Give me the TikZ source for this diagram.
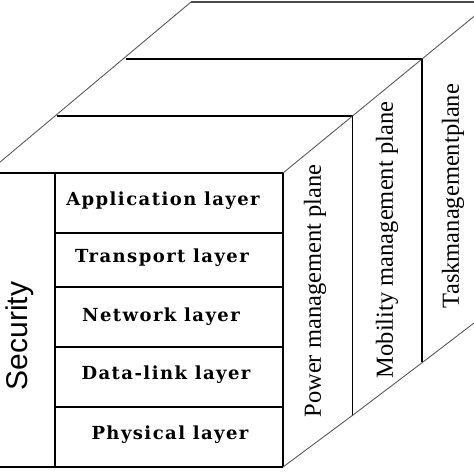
\documentclass[tikz,border=0pt]{standalone}
\usepackage{fontspec}
\setmainfont{Liberation Serif}
\newfontfamily\layerfont[LetterSpace=8]{DejaVu Serif}
\newfontfamily\secfont{Liberation Sans}
\begin{document}
\begin{tikzpicture}[x=1pt,y=-1pt,
  edge/.style={line width=1.3pt},
  slant/.style={line width=.9pt,black!65},
  layerlab/.style={font=\layerfont\bfseries\fontsize{18}{20}\selectfont,inner sep=0pt},
  planelab/.style={font=\fontsize{24.5}{26}\selectfont,rotate=90,inner sep=0pt}]
\useasboundingbox(0,0)rectangle(474,474);
\clip(0,0)rectangle(474,474);
% top face
\draw[edge](-13,173)--(283,173);
\draw[edge](56.5,116)--(352.5,116);
\draw[edge](126,59)--(422,59);
\draw[line width=2.8pt,black!70](191,2)--(491.5,2);
\draw[slant](-13,173)--(191,2);
\draw[slant](283,173)--(491.5,2);
% right face
\draw[edge](283,173)--(283,467);
\draw[edge](352.5,116)--(352.5,415);
\draw[edge](422,59)--(422,362);
\draw[slant](283,467)--(353,415)--(423,362)--(491,310);
% front face
\draw[edge](-13,467)--(283,467);
\draw[edge](55,173)--(55,467);
\foreach \y in {233,287,347,407}
  \draw[edge](55,\y)--(283,\y);
% labels
\node[font=\secfont\fontsize{30}{32}\selectfont,rotate=90,inner sep=0pt] (sec) at (20,336) {Security};
\node[layerlab] (app) at (163,201) {Application layer};
\node[layerlab] (trans) at (162,258) {Transport layer};
\node[layerlab] (net) at (161,317) {Network layer};
\node[layerlab] (dll) at (166,375) {Data-link layer};
\node[layerlab] (phy) at (170,435) {Physical layer};
\node[planelab] (power) at (315,291) {Power management plane};
\node[planelab] (mob) at (387,240) {Mobility management plane};
\node[planelab] (task) at (453,196) {Taskmanagementplane};
\end{tikzpicture}
\end{document}
